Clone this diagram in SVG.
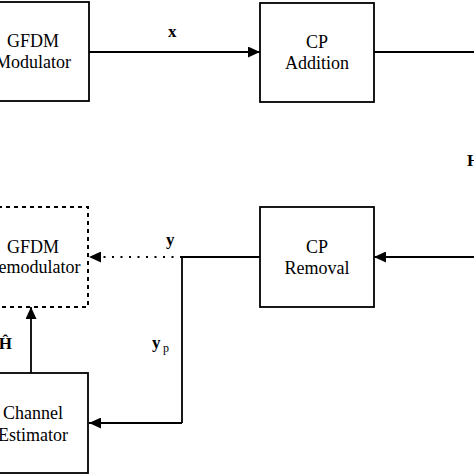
<svg xmlns="http://www.w3.org/2000/svg" width="474" height="474" viewBox="0 0 474 474">
<style>
.box{fill:#fff;stroke:#000;stroke-width:1.8}
.dash{fill:#fff;stroke:#000;stroke-width:2;stroke-dasharray:4 4}
.ln{fill:none;stroke:#000;stroke-width:1.8}
</style>
<defs>
<marker id="ah" viewBox="0 0 12 11" refX="12" refY="5.5" markerWidth="12" markerHeight="11" markerUnits="userSpaceOnUse" orient="auto">
<path d="M0,0 L12,5.5 L0,11 Z" fill="#000"/>
</marker>
</defs>
<rect width="474" height="474" fill="#fff"/>
<g id="connectors">
<line class="ln" x1="89" y1="52" x2="260" y2="52" marker-end="url(#ah)"/>
<line class="ln" x1="374" y1="52" x2="474" y2="52"/>
<line class="ln" x1="474" y1="257" x2="374" y2="257" marker-end="url(#ah)"/>
<polyline class="ln" points="260,257 182,257 182,423"/>
<line class="ln" x1="182" y1="257" x2="89" y2="257" stroke-dasharray="2 6.5" marker-end="url(#ah)"/>
<line class="ln" x1="182" y1="423" x2="89" y2="423" marker-end="url(#ah)"/>
<line class="ln" x1="31" y1="373" x2="31" y2="307" marker-end="url(#ah)"/>
</g>
<g font-family="'Liberation Serif', serif" font-size="18" fill="#000" text-anchor="middle">
<g id="gfdm-modulator">
<rect class="box" x="-10" y="2" width="99" height="99"/>
<text x="33" y="47">GFDM</text>
<text x="33" y="68">Modulator</text>
</g>
<g id="cp-addition">
<rect class="box" x="260" y="3" width="114" height="99"/>
<text x="317" y="48">CP</text>
<text x="317" y="69">Addition</text>
</g>
<g id="cp-removal">
<rect class="box" x="260" y="207" width="114" height="100"/>
<text x="317" y="253">CP</text>
<text x="317" y="274">Removal</text>
</g>
<g id="gfdm-demodulator">
<rect class="dash" x="-10" y="207" width="98" height="100"/>
<text x="33" y="253">GFDM</text>
<text x="33" y="273">Demodulator</text>
</g>
<g id="channel-estimator">
<rect class="box" x="-10" y="373" width="98" height="100"/>
<text x="33" y="419">Channel</text>
<text x="33" y="441">Estimator</text>
</g>
</g>
<g id="labels" font-family="'Liberation Serif', serif" font-size="17" font-weight="bold" fill="#000">
<text x="168" y="37">x</text>
<text x="166" y="245">y</text>
<text x="152" y="348">y</text>
<text x="163" y="352" font-size="12" font-weight="normal">p</text>
<text x="12" y="349" text-anchor="end">Ĥ</text>
<text x="467" y="166">H</text>
</g>
</svg>
